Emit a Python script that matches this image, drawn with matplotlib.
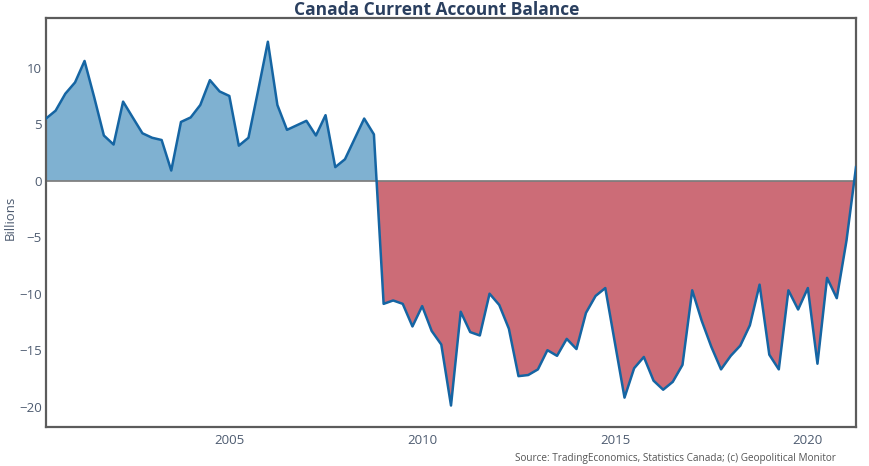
import numpy as np
import pandas as pd
import matplotlib
matplotlib.use('Agg')
import matplotlib.pyplot as plt
import matplotlib.dates as mdates

plt.rcParams['font.family'] = ['Open Sans', 'DejaVu Sans']

# quarterly current account balance, billions (2000 Q1 - 2021 Q1)
quarters = pd.period_range('2000Q1', periods=85, freq='Q').to_timestamp(how='end')
balance = [5.5, 6.2, 7.7, 8.7, 10.6, 7.4, 4.0, 3.2, 7.0, 5.6,
           4.2, 3.8, 3.6, 0.9, 5.2, 5.6, 6.7, 8.9, 7.9, 7.5,
           3.1, 3.8, 8.0, 12.3, 6.7, 4.5, 4.9, 5.3, 4.0, 5.8,
           1.2, 1.9, 3.7, 5.5, 4.1, -10.9, -10.6, -10.9, -12.9, -11.1,
           -13.3, -14.5, -19.9, -11.6, -13.4, -13.7, -10.0, -11.0, -13.1, -17.3,
           -17.2, -16.7, -15.0, -15.5, -14.0, -14.9, -11.7, -10.2, -9.5, -14.4,
           -19.2, -16.6, -15.6, -17.7, -18.5, -17.8, -16.3, -9.7, -12.4, -14.7,
           -16.7, -15.5, -14.6, -12.8, -9.2, -15.4, -16.7, -9.7, -11.4, -9.5,
           -16.2, -8.6, -10.4, -5.3, 1.2]
yticks = [-20, -15, -10, -5, 0, 5, 10]
xtick_years = [2005, 2010, 2015, 2020]

x = mdates.date2num(quarters)
y = np.array(balance)

fig = plt.figure(figsize=(8.7, 4.66), dpi=100)
ax = fig.add_axes([46/870, 1-427/466, 810/870, 409/466])

# surplus in blue, deficit in red
ax.fill_between(x, y, 0, where=y >= 0, interpolate=True, color='#7fb1d1', linewidth=0)
ax.fill_between(x, y, 0, where=y <= 0, interpolate=True, color='#cc6c77', linewidth=0)
ax.axhline(0, color='#777777', linewidth=1.2, zorder=2)
ax.plot(x, y, color='#1565a3', linewidth=1.8, zorder=3)

ax.set_xlim(x[0], x[-1])
ax.set_ylim(-21.8, 14.4)
ax.set_yticks(yticks)
ax.set_xticks([mdates.date2num(pd.Timestamp(yr, 1, 1)) for yr in xtick_years])
ax.set_xticklabels([str(yr) for yr in xtick_years])

for s in ax.spines.values():
    s.set_color('#5c5c5c')
    s.set_linewidth(1.6)
ax.tick_params(axis='both', length=0, labelsize=9.5, labelcolor='#4d5b70')
ax.tick_params(axis='y', pad=3)
ax.tick_params(axis='x', pad=5)

fig.text(437/870, 1-1/466, 'Canada Current Account Balance', ha='center', va='top',
         fontsize=12.5, fontweight='bold', color='#2a3f5f')
fig.text(10/870, 1-218/466, 'Billions', rotation=90, ha='center', va='center',
         fontsize=9.5, color='#4d5b70')
fig.text(836/870, 1-459/466, 'Source: TradingEconomics, Statistics Canada; (c) Geopolitical Monitor',
         ha='right', va='center', fontsize=7.2, color='#555555')

plt.savefig('out.png', dpi=100)
